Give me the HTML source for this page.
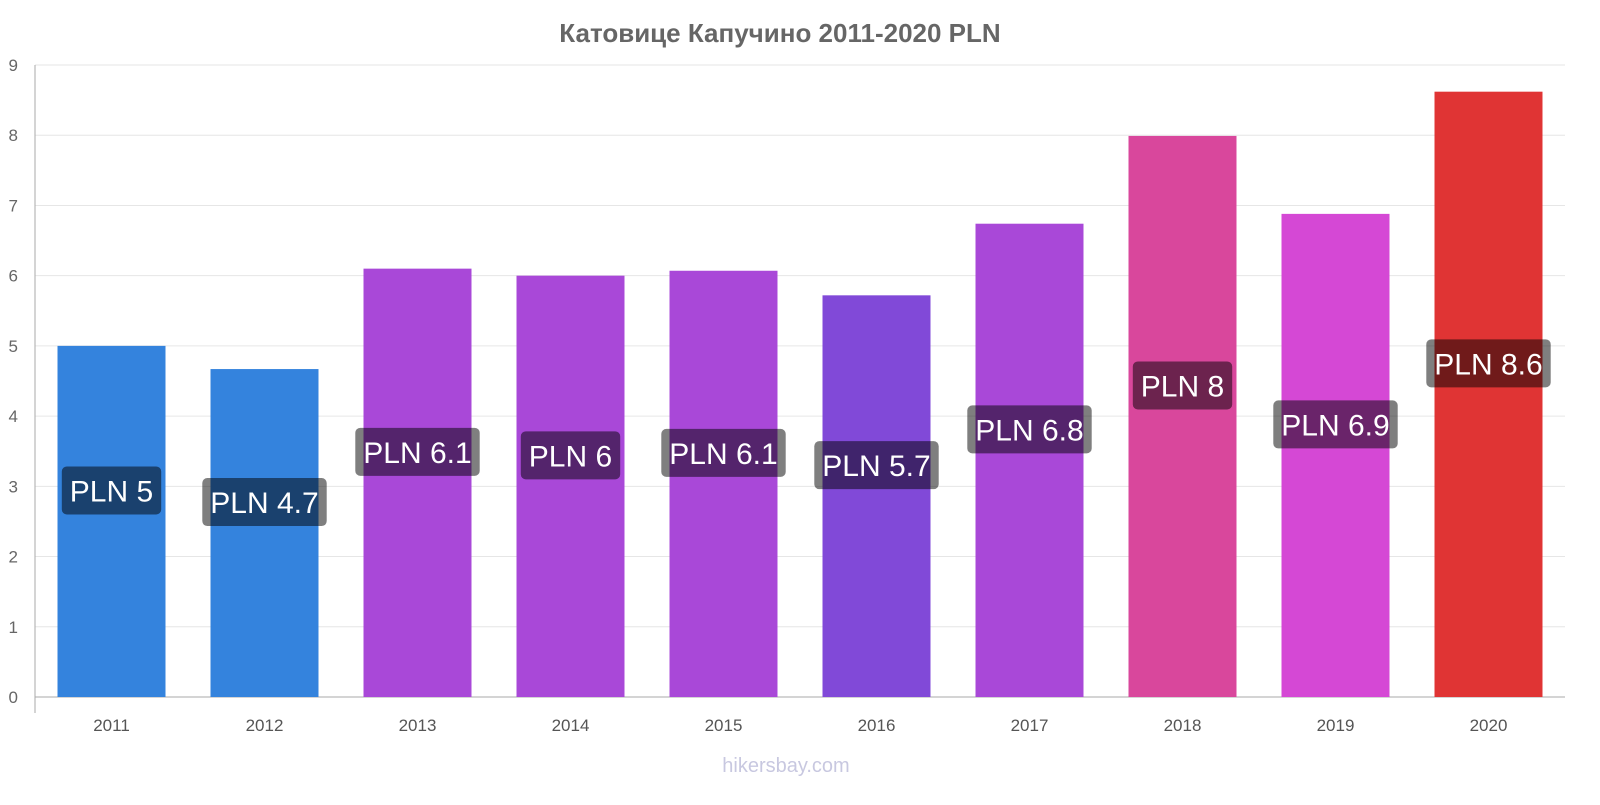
<!DOCTYPE html>
<html><head><meta charset="utf-8"><style>
body{margin:0;background:#fff;width:1600px;height:800px;overflow:hidden;font-family:"Liberation Sans",sans-serif}
</style></head><body>
<svg id="chart" width="1600" height="800" xmlns="http://www.w3.org/2000/svg" font-family="Liberation Sans, sans-serif">
<text x="780" y="42" text-anchor="middle" font-size="26" font-weight="bold" fill="#666">Катовице Капучино 2011-2020 PLN</text>
<g id="grid"></g><g id="bars"></g><g id="labels"></g>
<text x="786" y="772" text-anchor="middle" font-size="20" fill="#c8c8e0">hikersbay.com</text>
</svg>
<script>
const categories=["2011","2012","2013","2014","2015","2016","2017","2018","2019","2020"];
const values=[5.0,4.67,6.1,6.0,6.07,5.72,6.74,7.99,6.88,8.62];
const valueLabels=["PLN 5","PLN 4.7","PLN 6.1","PLN 6","PLN 6.1","PLN 5.7","PLN 6.8","PLN 8","PLN 6.9","PLN 8.6"];
const colors=["#3483dd","#3483dd","#a948d8","#a948d8","#a948d8","#8149d8","#a948d8","#d9479c","#d548d5","#e03434"];
const yTicks=[0,1,2,3,4,5,6,7,8,9];
const NS="http://www.w3.org/2000/svg";
const x0=35,x1=1565,yb=697,yt=65,ymax=9;
const band=(x1-x0)/categories.length;
const y=v=>yb-(v/ymax)*(yb-yt);
const xc=i=>x0+band*(i+0.5);
function mk(t,a,p){const e=document.createElementNS(NS,t);for(const k in a)e.setAttribute(k,a[k]);p.appendChild(e);return e;}
const grid=document.getElementById('grid'),bars=document.getElementById('bars'),labels=document.getElementById('labels');
yTicks.forEach(t=>{
 const l=mk('line',{x1:x0,x2:x1,y1:y(t),y2:y(t),stroke:'#e6e6e6'},grid);
 
 
 const tx=mk('text',{x:18,y:y(t)+6,'text-anchor':'end','font-size':17,fill:'#666'},grid);
 tx.textContent=t;
 
 
});
const ax=mk('line',{x1:x0,x2:x0,y1:yt,y2:713,stroke:'#aaa'},grid);


const bx=mk('line',{x1:x0,x2:x1,y1:yb,y2:yb,stroke:'#aaa'},grid);


categories.forEach((c,i)=>{
 const w=108,v=values[i];
 const r=mk('rect',{x:xc(i)-w/2,y:y(v),width:w,height:yb-y(v),fill:colors[i]},bars);
 
 
 const tx=mk('text',{x:xc(i),y:731,'text-anchor':'middle','font-size':17,fill:'#555'},grid);
 tx.textContent=c;
 
 
 const cy=(y(v)+yb)/2-31;
 const t=mk('text',{x:xc(i),y:cy+11,'text-anchor':'middle','font-size':30,fill:'#fff'},labels);
 t.textContent=valueLabels[i];
 
 
 const tw=t.getComputedTextLength()+16;
 const b=mk('rect',{x:xc(i)-tw/2,y:cy-24,width:tw,height:48,rx:5,fill:'rgba(0,0,0,0.5)'},labels);
 
 
 labels.insertBefore(b,t);
});
</script>
</body></html>
